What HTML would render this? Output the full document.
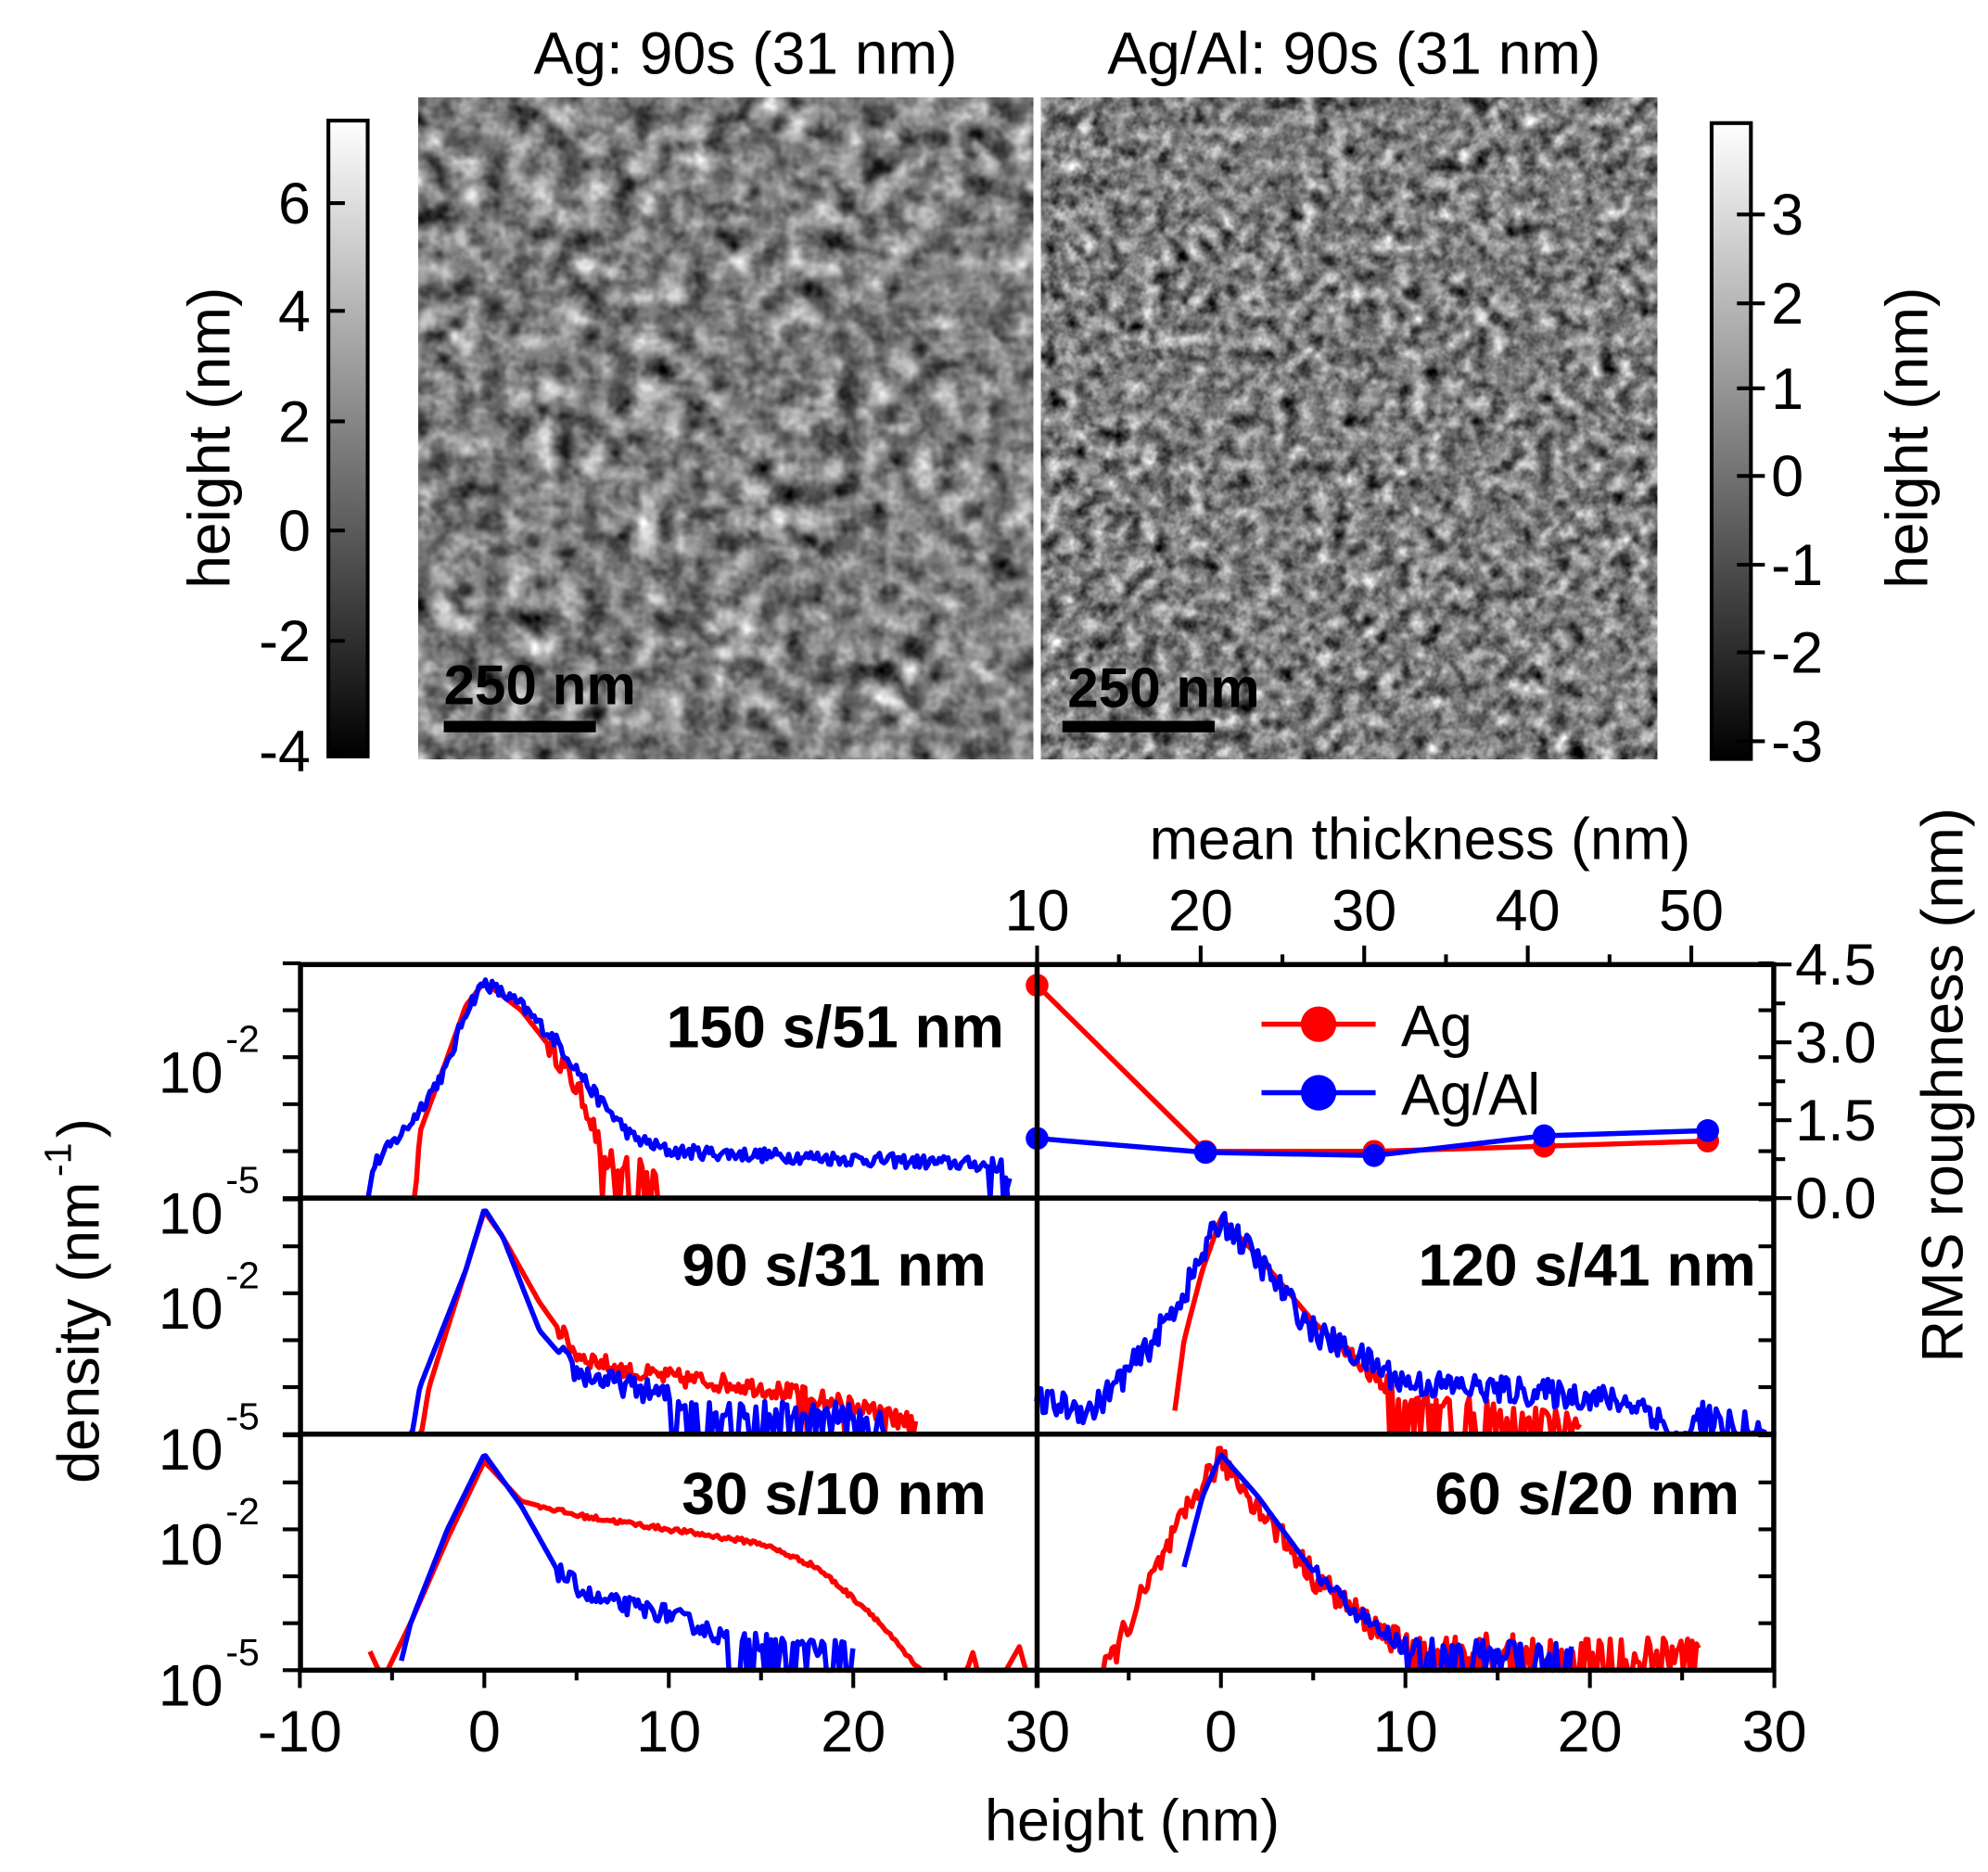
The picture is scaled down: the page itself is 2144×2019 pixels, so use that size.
<!DOCTYPE html>
<html><head><meta charset="utf-8"><style>
html,body{margin:0;padding:0;background:#fff}
svg{display:block}
text{font-family:"Liberation Sans",Arial,sans-serif;fill:#000}
</style></head><body>
<svg id="s" width="2144" height="2019" viewBox="0 0 1568 1475" preserveAspectRatio="none" xmlns="http://www.w3.org/2000/svg">
<defs>
<linearGradient id="cb" x1="0" y1="0" x2="0" y2="1"><stop offset="0" stop-color="#fff"/><stop offset="1" stop-color="#000"/></linearGradient>
<filter id="n1" x="0" y="0" width="100%" height="100%" color-interpolation-filters="sRGB"><feTurbulence type="fractalNoise" baseFrequency="0.05" numOctaves="3" seed="3"/><feColorMatrix type="matrix" values="0.33 0.33 0.33 0 0 0.33 0.33 0.33 0 0 0.33 0.33 0.33 0 0 0 0 0 0 1"/><feComponentTransfer><feFuncR type="linear" slope="1.9" intercept="-0.45"/><feFuncG type="linear" slope="1.9" intercept="-0.45"/><feFuncB type="linear" slope="1.9" intercept="-0.45"/></feComponentTransfer></filter>
<filter id="n2" x="0" y="0" width="100%" height="100%" color-interpolation-filters="sRGB"><feTurbulence type="fractalNoise" baseFrequency="0.08" numOctaves="3" seed="7"/><feColorMatrix type="matrix" values="0.33 0.33 0.33 0 0 0.33 0.33 0.33 0 0 0.33 0.33 0.33 0 0 0 0 0 0 1"/><feComponentTransfer><feFuncR type="linear" slope="2.1" intercept="-0.55"/><feFuncG type="linear" slope="2.1" intercept="-0.55"/><feFuncB type="linear" slope="2.1" intercept="-0.55"/></feComponentTransfer></filter>
</defs>
<text x="588" y="58" font-size="47" text-anchor="middle">Ag: 90s (31 nm)</text>
<text x="1068" y="58" font-size="47" text-anchor="middle">Ag/Al: 90s (31 nm)</text>
<rect x="330" y="77" width="485" height="521" fill="#777"/>
<rect x="330" y="77" width="485" height="521" filter="url(#n1)"/>
<rect x="821" y="77" width="486" height="521" fill="#777"/>
<rect x="821" y="77" width="486" height="521" filter="url(#n2)"/>
<rect x="350" y="568" width="120" height="9" fill="#000"/>
<text x="350" y="555" font-size="44" font-weight="bold">250 nm</text>
<rect x="838" y="568" width="120" height="9" fill="#000"/>
<text x="842" y="557" font-size="44" font-weight="bold">250 nm</text>
<rect x="259" y="95" width="31" height="501" fill="url(#cb)" stroke="#000" stroke-width="3"/>
<rect x="1350" y="97" width="31" height="501" fill="url(#cb)" stroke="#000" stroke-width="3"/>
<g id="g"></g>
</svg>
<script>
var NS="http://www.w3.org/2000/svg",G=document.getElementById("g");
function el(t,a,txt){var e=document.createElementNS(NS,t);for(var k in a)e.setAttribute(k,a[k]);if(txt!=null)e.textContent=txt;G.appendChild(e);return e;}
function line(x1,y1,x2,y2,w,c){el("line",{x1:x1,y1:y1,x2:x2,y2:y2,stroke:c||"#000","stroke-width":w||3});}
function txt(x,y,s,size,anc,extra){var a={x:x,y:y,"font-size":size,"text-anchor":anc||"start"};for(var k in extra||{})a[k]=extra[k];return el("text",a,s);}
[[6,160],[4,245],[2,332],[0,418],[-2,505],[-4,592]].forEach(function(p){line(259,p[1],272,p[1],3);txt(245,p[1]+16,String(p[0]),46,"end");});
txt(0,0,"height (nm)",47,"middle",{transform:"translate(181,345) rotate(-90)"});
[[3,169],[2,239],[1,306],[0,375],[-1,445],[-2,514],[-3,584]].forEach(function(p){line(1370,p[1],1392,p[1],3);txt(1397,p[1]+16,String(p[0]),46,"start");});
txt(0,0,"height (nm)",47,"middle",{transform:"translate(1520,345) rotate(-90)"});
var seed=12345;function rnd(){seed=(seed*16807)%2147483647;return (seed-1)/2147483646;}
var rows=[[760,944],[944,1130],[1130,1316]];
function interp(pts,x){if(x<=pts[0][0])return pts[0][1];for(var i=1;i<pts.length;i++){if(x<=pts[i][0]){var a=pts[i-1],b=pts[i];return a[1]+(b[1]-a[1])*(x-a[0])/(b[0]-a[0]);}}return pts[pts.length-1][1];}
function curve(x0px,bot,pts,color,noiseStart,dropStart,dropP,xEnd,noiseAmp){
 var d="",start=pts[0][0],end=xEnd||pts[pts.length-1][0];
 for(var x=start;x<=end;x+=0.12){var v=interp(pts,x);
  if(x>noiseStart)v+=(rnd()-0.5)*2*noiseAmp;
  if(x>dropStart&&rnd()<dropP)v=-5.2;
  var y=bot-(v+5)*37;if(y>bot)y=bot;if(y<bot-184)y=bot-184;
  var px=x0px+x*14.55;d+=(d?"L":"M")+px.toFixed(1)+","+y.toFixed(1);}
 el("path",{d:d,fill:"none",stroke:color,"stroke-width":4,"stroke-linejoin":"round"});}
var L0=382,R0=963;
curve(L0,944,[[-3.8,-5.3],[-3.5,-3.6],[-2,-2],[-1,-0.9],[0,-0.4],[2,-1],[4,-2],[5.5,-3],[6.5,-4.2],[9.5,-4.3]],"#f00",3.5,6.2,0.5,9.5,0.25);
curve(L0,944,[[-6.3,-5],[-6,-4.3],[-4,-3.4],[-2,-2.2],[-1,-1],[0,-0.4],[2,-0.9],[4,-1.7],[6,-2.8],[8,-3.7],[10,-4],[28,-4.3],[28.5,-4.6]],"#00f",-6,27,0.3,28.5,0.15);
curve(L0,944,[[28,-5.3],[28.6,-4.4]],"#00f",30,30,0,28.6,0);
curve(L0,1130,[[-3.5,-5.2],[-3,-4],[-1,-1.5],[0,-0.25],[1,-0.8],[3,-2.2],[5,-3.3],[8,-3.7],[15,-4],[20,-4.4],[23.5,-4.8]],"#f00",4,17,0.2,23.5,0.2);
curve(L0,1130,[[-4,-5.2],[-3.5,-4],[-1,-1.5],[0,-0.2],[1,-0.8],[3,-2.8],[5,-3.7],[10,-4.2],[14,-4.5],[22,-4.6]],"#00f",4,10,0.45,22,0.25);
curve(L0,1316,[[-6.2,-4.6],[-5.5,-5.2],[-4,-4],[-2,-2.2],[0,-0.55],[2,-1.4],[5,-1.7],[10,-2],[15,-2.3],[18,-2.8],[21,-3.8],[24,-5.2]],"#f00",3,30,0,24,0.05);
curve(L0,1316,[[26,-5.2],[26.5,-4.6],[26.8,-5.2],[28,-5.2],[29,-4.5],[29.5,-5.2]],"#f00",30,30,0,29.5,0);
curve(L0,1316,[[-4.5,-4.8],[-4,-4],[-2,-2],[0,-0.4],[2,-1.5],[4,-2.9],[6,-3.5],[10,-3.8],[13,-4.3],[20,-4.6]],"#00f",4,13,0.5,20,0.2);
curve(R0,1130,[[-2.5,-4.5],[-2,-3],[-1,-1.5],[0,-0.4],[2,-1.2],[5,-2.6],[8,-3.7],[10,-4.2],[19.5,-4.7]],"#f00",6,9,0.45,19.5,0.2);
curve(R0,1130,[[-10,-4.3],[-7,-4.5],[-4,-3.2],[-2,-2],[0,-0.4],[2,-1.3],[5,-2.8],[10,-3.9],[20,-4.2],[23,-4.4],[25,-5.2],[26,-4.6],[29.5,-4.9]],"#00f",-10,26,0.3,29.5,0.3);
curve(R0,1316,[[-6.5,-5.2],[-5,-4],[-3,-2.5],[-1,-1],[0,-0.5],[2,-1.5],[5,-3],[8,-4],[10,-4.5],[26,-4.6]],"#f00",-6.5,10,0.5,26,0.3);
curve(R0,1316,[[-2,-2.8],[-1,-1.3],[0,-0.4],[2,-1.3],[5,-2.9],[8,-4],[10,-4.5],[19,-4.6]],"#00f",5,10,0.5,19,0.2);
function rx(t){return 818+(t-10)*12.9;} function ry(v){return 944-v*40.9;}
function series(pts,c){var d="";pts.forEach(function(p,i){d+=(i?"L":"M")+rx(p[0])+","+ry(p[1]);});el("path",{d:d,fill:"none",stroke:c,"stroke-width":4});pts.forEach(function(p){el("circle",{cx:rx(p[0]),cy:ry(p[1]),r:9,fill:c});});}
series([[10,4.1],[20.3,0.9],[30.6,0.9],[41,1.0],[51,1.1]],"#f00");
series([[10,1.15],[20.3,0.88],[30.6,0.82],[41,1.2],[51,1.3]],"#00f");
line(995,807,1085,807,4,"#f00");el("circle",{cx:1040,cy:807,r:14,fill:"#f00"});txt(1105,824,"Ag",46);
line(995,861,1085,861,4,"#00f");el("circle",{cx:1040,cy:861,r:14,fill:"#00f"});txt(1105,878,"Ag/Al",46);
rows.forEach(function(r){el("rect",{x:237,y:r[0],width:1162,height:r[1]-r[0],fill:"none",stroke:"#000","stroke-width":4});});
line(818,760,818,1316,4);
rows.forEach(function(r){for(var k=0;k<=5;k++){var y=r[1]-k*37;line(223,y,237,y,3);line(1399,y,1387,y,3);}
 txt(176,r[1]+28,"10",46,"end");txt(178,r[1]-4,"-5",30,"start");
 txt(176,r[1]-111+28,"10",46,"end");txt(178,r[1]-111-4,"-2",30,"start");});
[[0,"0.0"],[1.5,"1.5"],[3,"3.0"],[4.5,"4.5"]].forEach(function(p){var y=ry(p[0]);line(1399,y,1413,y,3);txt(1416,y+16,p[1],46);});
for(var v=0.75;v<4.5;v+=1.5)line(1399,ry(v),1408,ry(v),3);
[10,20,30,40,50].forEach(function(t){line(rx(t),760,rx(t),745,3);txt(rx(t),733,String(t),46,"middle");});
[15,25,35,45].forEach(function(t){line(rx(t),760,rx(t),752,3);});
txt(1120,677,"mean thickness (nm)",46,"middle");
txt(0,0,"RMS roughness (nm)",46,"middle",{transform:"translate(1548,855) rotate(-90)"});
for(var t=-10;t<=30;t+=5){var big=t%10==0;line(L0+t*14.55,1316,L0+t*14.55,big?1330:1324,3);line(R0+t*14.55,1316,R0+t*14.55,big?1330:1324,3);}
[-10,0,10,20,30].forEach(function(t){txt(L0+t*14.55,1380,String(t),46,"middle");});
[0,10,20,30].forEach(function(t){txt(R0+t*14.55,1380,String(t),46,"middle");});
txt(893,1450,"height (nm)",46,"middle");
var dl=el("text",{x:0,y:0,"font-size":46,"text-anchor":"middle",transform:"translate(78,1025) rotate(-90)"});
dl.appendChild(document.createTextNode("density (nm"));
var t1=document.createElementNS(NS,"tspan");t1.setAttribute("font-size","30");t1.setAttribute("dy","-22");t1.setAttribute("dx","4");t1.textContent="-1";dl.appendChild(t1);
var t2=document.createElementNS(NS,"tspan");t2.setAttribute("dy","22");t2.setAttribute("dx","4");t2.textContent=")";dl.appendChild(t2);
var B={"font-weight":"bold"};
txt(792,825,"150 s/51 nm",47,"end",B);txt(778,1013,"90 s/31 nm",47,"end",B);txt(778,1193,"30 s/10 nm",47,"end",B);
txt(1385,1013,"120 s/41 nm",47,"end",B);txt(1372,1193,"60 s/20 nm",47,"end",B);
</script>
</body></html>
